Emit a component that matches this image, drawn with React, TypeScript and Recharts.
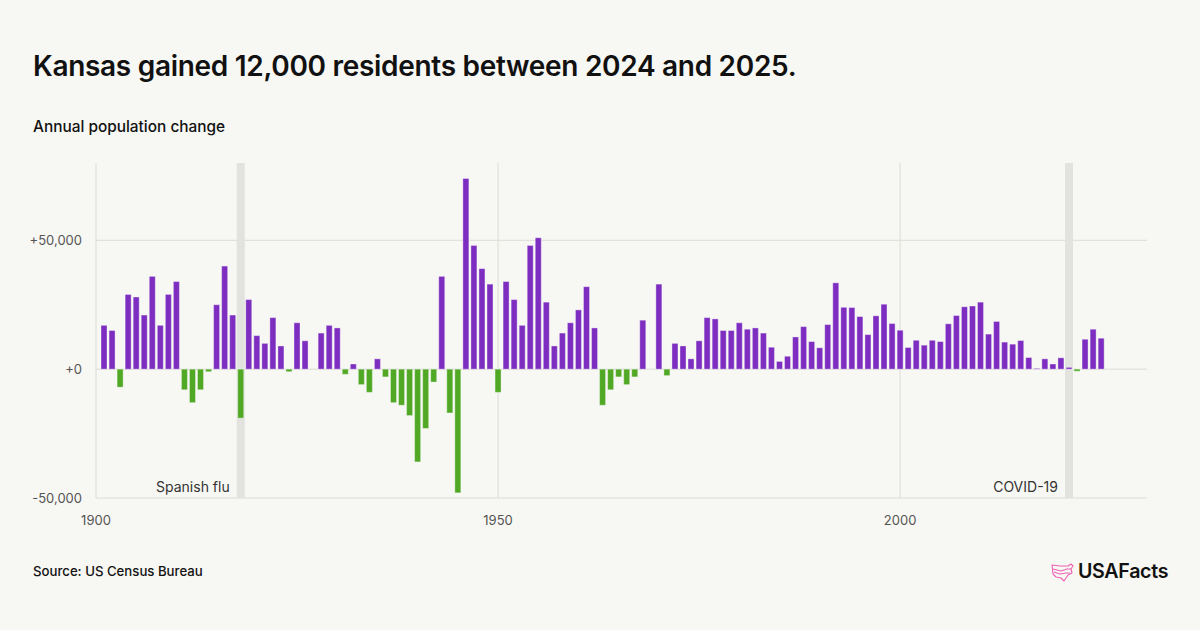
import React from 'react';
import { BarChart, Bar, XAxis, YAxis, CartesianGrid, ReferenceArea, Cell } from 'recharts';

// Annual change in Kansas resident population, 1901–2025
const firstYear = 1901;
const changes = [
  17000, 15000, -7000, 29000, 28000, 21000, 36000, 17000, 29000, 34000, // 1901-1910
  -8000, -13000, -8000, -1000, 25000, 40000, 21000, -19000, 27000, 13000, // 1911-1920
  10000, 20000, 9000, -1000, 18000, 11000, 0, 14000, 17000, 16000, // 1921-1930
  -2000, 2000, -6000, -9000, 4000, -3000, -13000, -14000, -18000, -36000, // 1931-1940
  -23000, -5000, 36000, -17000, -48000, 74000, 48000, 39000, 33000, -9000, // 1941-1950
  34000, 27000, 17000, 48000, 51000, 26000, 9000, 14000, 18000, 23000, // 1951-1960
  32000, 16000, -14000, -8000, -3000, -6000, -3000, 19000, 0, 33000, // 1961-1970
  -2500, 10000, 9000, 4000, 11000, 20000, 19500, 15000, 15000, 18000, // 1971-1980
  15500, 16000, 14000, 8500, 3000, 5000, 12500, 16500, 10700, 8300, // 1981-1990
  17300, 33500, 24000, 23900, 20400, 13400, 20700, 25200, 17700, 15100, // 1991-2000
  8400, 11200, 9300, 11200, 10700, 17600, 20800, 24200, 24500, 26000, // 2001-2010
  13600, 18500, 10500, 9700, 11100, 4500, 300, 4000, 2000, 4400, // 2011-2020
  700, -800, 11600, 15500, 12000, // 2021-2025
];
const years = changes.map((_, i) => firstYear + i);

const xTicks = [1900, 1950, 2000];
const yTicks = [-50000, 0, 50000];
const eventYears = [1918, 2021];
const eventLabels = ['Spanish flu', 'COVID-19'];

const data = years.map((year, i) => ({ year, change: changes[i] }));

const FONT = 'Inter, "Noto Sans", "DejaVu Sans", sans-serif';
const BG = '#F7F7F3';
const PURPLE = '#7D2EC0';
const GREEN = '#50A825';
const GRID = '#DCDCD7';

const formatY = (v: number) => {
  if (v === 0) return '+0';
  const s = Math.abs(v).toLocaleString('en-US');
  return v > 0 ? `+${s}` : `-${s}`;
};

const scaleOf = (axis: any) => {
  const s = axis && axis.scale;
  if (!s) return null;
  return typeof s === 'function' ? s : s.map ? (v: number) => s.map(v) : null;
};

// grid lines only at the labelled ticks
const verticalGen = (props: any) => {
  const f = scaleOf(props.xAxis);
  return f ? xTicks.map((t) => f(t)) : [];
};
const horizontalGen = (props: any) => {
  const f = scaleOf(props.yAxis);
  return f ? yTicks.map((t) => f(t)) : [];
};

const makeEventLabel = (text: string) => (props: any) => {
  const vb = props.viewBox || {};
  return (
    <text
      x={vb.x - 7}
      y={vb.y + vb.height - 6}
      textAnchor="end"
      fontSize={14}
      fontFamily={FONT}
      fill="#333"
    >
      {text}
    </text>
  );
};

const Logo = () => (
  <g>
    <g fill="none" stroke="#EE62B4" strokeWidth={1.1} strokeLinejoin="round">
      <path d="M1052 565 L1060 566 L1068 566 L1071 564 L1073 566 L1071 569 L1072 573 L1068 575 L1066 578 L1064 581 L1061 578 L1056 577 L1053 574 Z" />
      <path d="M1053 569 L1061 571 L1067 569 L1071 569" />
      <path d="M1054 572 L1060 574 L1066 573 L1070 573" />
    </g>
    <text x={1078} y={578} fontSize={19.6} fontWeight={600} fontFamily={FONT} fill="#111" letterSpacing={-0.3}>
      USAFacts
    </text>
  </g>
);

export default function App() {
  return (
    <div
      style={{
        position: 'fixed',
        left: 0,
        top: 0,
        width: 1200,
        height: 630,
        background: BG,
        overflow: 'hidden',
        fontFamily: FONT,
      }}
    >
      <svg width={1200} height={630} style={{ position: 'absolute', left: 0, top: 0 }}>
        <text x={33} y={76} fontSize={28} fontWeight={600} fill="#111" fontFamily={FONT} letterSpacing={-0.3}>
          Kansas gained 12,000 residents between 2024 and 2025.
        </text>
        <text x={33} y={132} fontSize={15.4} fontWeight={500} fill="#111" fontFamily={FONT}>
          Annual population change
        </text>
        <text x={33} y={576} fontSize={13.2} fontWeight={500} fill="#111" fontFamily={FONT}>
          Source: US Census Bureau
        </text>
        <Logo />
      </svg>
      <div style={{ position: 'absolute', left: 0, top: 0 }}>
        <BarChart
          width={1200}
          height={630}
          data={data}
          margin={{ top: 163, right: 53, bottom: 102, left: 0 }}
          barCategoryGap={0}
        >
          <CartesianGrid
            stroke={GRID}
            strokeWidth={1}
            verticalCoordinatesGenerator={verticalGen}
            horizontalCoordinatesGenerator={horizontalGen}
          />
          {eventYears.map((y, i) => (
            <ReferenceArea
              key={y}
              x1={y - 0.5}
              x2={y + 0.5}
              fill="#E2E2DE"
              fillOpacity={1}
              stroke="none"
              label={makeEventLabel(eventLabels[i])}
            />
          ))}
          <XAxis
            dataKey="year"
            type="number"
            domain={[1900, 2030.7]}
            ticks={xTicks}
            axisLine={false}
            tickLine={false}
            tickMargin={12}
            tick={{ fontSize: 13, fill: '#555', fontFamily: FONT }}
            allowDataOverflow
          />
          <YAxis
            type="number"
            domain={[-50000, 80000]}
            ticks={yTicks}
            width={96}
            axisLine={false}
            tickLine={false}
            tickMargin={8}
            tickFormatter={formatY}
            tick={{ fontSize: 13, fill: '#555', fontFamily: FONT }}
            allowDataOverflow
          />
          <Bar
            dataKey="change"
            barSize={6}
            isAnimationActive={false}
            stroke="#ffffff"
            strokeOpacity={0.45}
            strokeWidth={0.8}
          >
            {data.map((d) => (
              <Cell key={d.year} fill={d.change < 0 ? GREEN : PURPLE} />
            ))}
          </Bar>
        </BarChart>
      </div>
    </div>
  );
}
